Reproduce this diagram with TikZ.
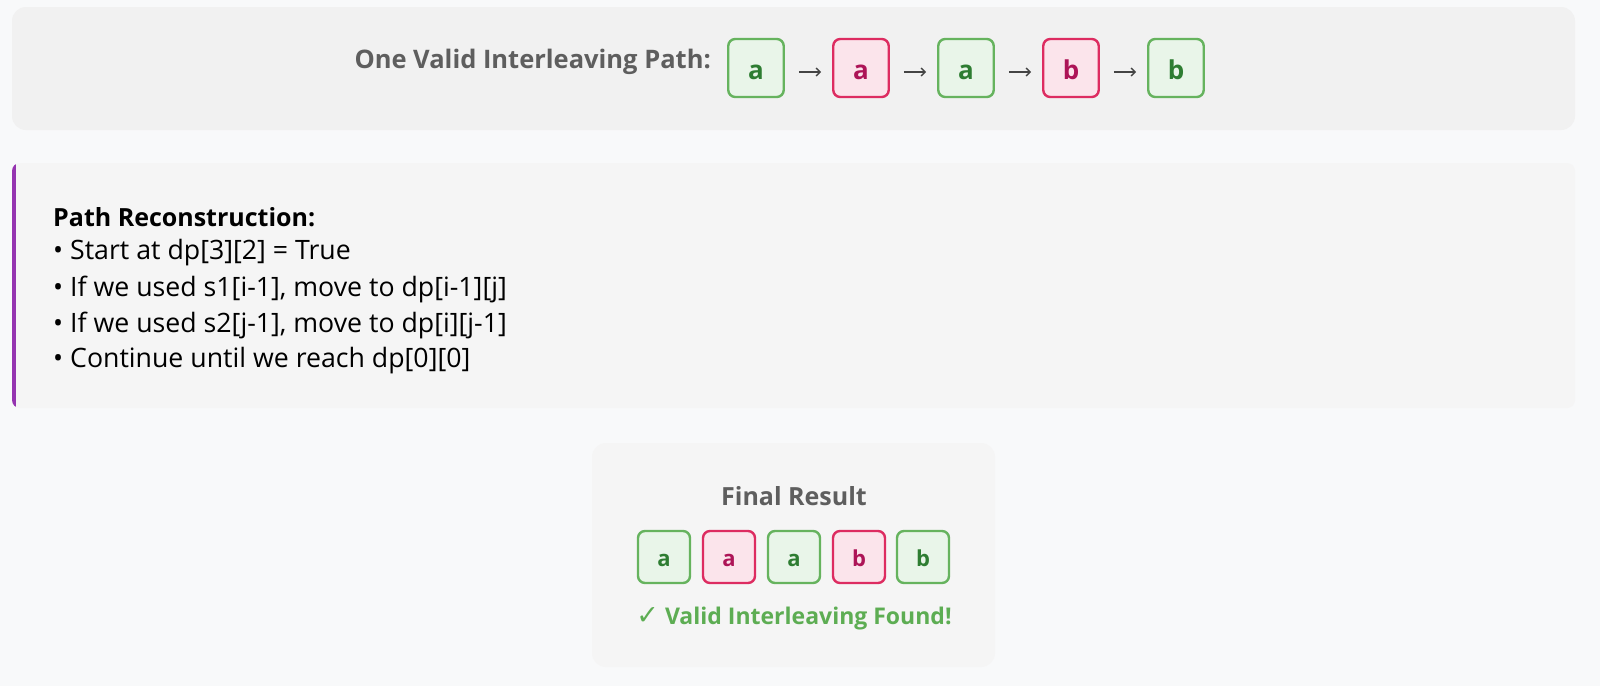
\documentclass[tikz,border=0pt]{standalone}
\usepackage{fontspec}
\setmainfont{Open Sans}
\newfontfamily\symfont{DejaVu Sans}
\usetikzlibrary{arrows.meta}
\definecolor{pagebg}{HTML}{F8F9FA}
\definecolor{topbg}{HTML}{F1F1F1}
\definecolor{panelbg}{HTML}{F5F5F5}
\definecolor{accent}{HTML}{9534B0}
\definecolor{titlegray}{HTML}{5E5E5E}
\definecolor{gborder}{HTML}{66B35E}
\definecolor{gfill}{HTML}{E9F5E9}
\definecolor{gtext}{HTML}{2E7D32}
\definecolor{pborder}{HTML}{DD2C61}
\definecolor{pfill}{HTML}{FBE4EB}
\definecolor{ptext}{HTML}{AD1457}
\definecolor{okgreen}{HTML}{5DAD53}
\definecolor{arrowgray}{HTML}{444444}
\tikzset{
  cell/.style={line width=2.4pt, rounded corners=7pt, inner sep=0pt,
    font=\bfseries\fontsize{26}{30}\selectfont, text height=22pt, text depth=0pt},
  bigcell/.style={cell, minimum width=55.5pt, minimum height=58pt},
  smallcell/.style={cell, minimum width=52pt, minimum height=52pt,
    font=\bfseries\fontsize{22}{26}\selectfont, text height=18pt},
  gcell/.style={draw=gborder, fill=gfill, text=gtext},
  pcell/.style={draw=pborder, fill=pfill, text=ptext},
  titletext/.style={font=\bfseries\fontsize{25.5}{30}\selectfont, text=titlegray, inner sep=0pt},
  bodytext/.style={font=\fontsize{26.7}{30}\selectfont, text=black, inner sep=0pt, anchor=west},
  pathlink/.style={draw=arrowgray, line width=1.3pt, -{Straight Barb[length=4pt,width=8pt]},
    shorten <=14pt, shorten >=11pt}
}
\begin{document}
\begin{tikzpicture}[x=1pt,y=-1pt]
\useasboundingbox[fill=pagebg] (0,0) rectangle (1600,686);
% top panel
\fill[topbg, rounded corners=14pt] (12,7) rectangle (1575,130);
\node[titletext, anchor=east] (ptitle) at (711,62) {One Valid Interleaving Path:};
\node[bigcell, gcell] (t1) at (756,68) {a};
\node[bigcell, pcell] (t2) at (861,68) {a};
\node[bigcell, gcell] (t3) at (966,68) {a};
\node[bigcell, pcell] (t4) at (1071,68) {b};
\node[bigcell, gcell] (t5) at (1176,68) {b};
\draw[pathlink] ([yshift=-4pt]t1.east) -- ([yshift=-4pt]t2.west);
\draw[pathlink] ([yshift=-4pt]t2.east) -- ([yshift=-4pt]t3.west);
\draw[pathlink] ([yshift=-4pt]t3.east) -- ([yshift=-4pt]t4.west);
\draw[pathlink] ([yshift=-4pt]t4.east) -- ([yshift=-4pt]t5.west);
% middle panel
\fill[panelbg, rounded corners=8pt] (12,163) rectangle (1575,408);
\begin{scope}
\clip[rounded corners=8pt] (12,163) rectangle (1575,408);
\fill[accent] (12,163) rectangle (16,408);
\end{scope}
\node[bodytext, font=\bfseries\fontsize{25}{29}\selectfont] (rh) at (53,217) {Path Reconstruction:};
\node[bodytext] (r1) at (53,253) {• Start at dp[3][2] = True};
\node[bodytext] (r2) at (53,289) {• If we used s1[i-1], move to dp[i-1][j]};
\node[bodytext] (r3) at (53,325) {• If we used s2[j-1], move to dp[i][j-1]};
\node[bodytext] (r4) at (53,361) {• Continue until we reach dp[0][0]};
% bottom panel
\fill[panelbg, rounded corners=14pt] (592,443) rectangle (995,667);
\node[titletext, font=\bfseries\fontsize{25}{30}\selectfont] (ftitle) at (794,496) {Final Result};
\node[smallcell, gcell] (f1) at (664,557) {a};
\node[smallcell, pcell] (f2) at (729,557) {a};
\node[smallcell, gcell] (f3) at (794,557) {a};
\node[smallcell, pcell] (f4) at (859,557) {b};
\node[smallcell, gcell] (f5) at (923,557) {b};
\node[titletext, text=okgreen, font=\bfseries\fontsize{23}{27}\selectfont] (ok) at (794,619) {{\symfont\fontsize{27}{27}\selectfont ✓} Valid Interleaving Found!};
\end{tikzpicture}
\end{document}
